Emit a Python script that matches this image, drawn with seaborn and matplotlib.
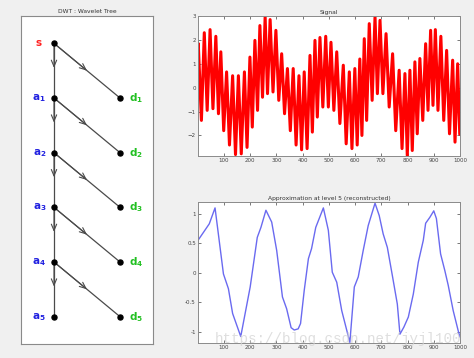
import numpy as np
import pandas as pd
import matplotlib
matplotlib.use("Agg")
import matplotlib.pyplot as plt
import seaborn as sns

# ---------------- data ----------------
# Signal: oscillation peaks / troughs
peak_x = [2, 25, 47, 69, 88, 110, 133, 155, 178, 199, 218, 237, 257, 276, 298, 320,
          342, 364, 386, 406, 428, 447, 466, 488, 508, 530, 555, 578, 599, 618, 635,
          654, 676, 695, 718, 743, 768, 790, 809, 828, 847, 869, 888, 906, 927, 949,
          972, 991]
peak_y = [1.85, 2.30, 2.43, 2.15, 1.50, 0.66, 0.50, 0.50, 0.66, 1.28, 1.98, 2.60,
          2.96, 2.85, 2.40, 1.42, 0.80, 0.80, 0.50, 0.66, 1.35, 1.98, 2.10, 2.15,
          1.90, 1.50, 0.94, 0.66, 0.80, 1.20, 2.05, 2.68, 2.96, 2.82, 2.26, 1.42,
          0.73, 0.59, 0.73, 1.08, 1.22, 1.84, 2.40, 2.43, 2.15, 1.56, 1.15, 1.00]
trough_x = [14, 36, 58, 79, 99, 121, 144, 166, 188, 208, 228, 247, 266, 287, 309, 331,
            353, 375, 396, 417, 437, 456, 477, 498, 519, 542, 566, 588, 608, 626, 644,
            665, 685, 706, 730, 755, 779, 799, 818, 837, 858, 878, 897, 916, 938, 960,
            981, 999]
trough_y = [-1.37, -0.95, -0.88, -1.09, -1.80, -2.40, -2.80, -2.77, -2.50, -1.65,
            -0.95, -0.40, -0.25, -0.18, -0.53, -1.09, -1.80, -2.40, -2.60, -2.55,
            -1.86, -1.23, -0.81, -0.81, -0.95, -1.50, -2.35, -2.55, -2.40, -2.00,
            -1.37, -0.53, -0.25, -0.25, -0.81, -1.80, -2.55, -2.84, -2.63, -1.93,
            -1.37, -0.95, -0.74, -0.95, -1.37, -1.93, -2.28, -1.95]
signal_start = (1, 0.90)

# Approximation at level 5 (reconstructed)
approx_x = [1, 44, 66, 98, 117, 133, 164, 200, 227, 241, 260, 282, 301, 323, 339,
            356, 368, 383, 392, 406, 422, 434, 450, 479, 498, 513, 530, 549, 580,
            597, 612, 631, 650, 676, 692, 707, 723, 743, 761, 771, 786, 803, 822,
            841, 860, 869, 885, 900, 910, 926, 942, 955, 974, 993, 1000]
approx_y = [0.55, 0.83, 1.10, -0.02, -0.27, -0.69, -1.08, -0.24, 0.60, 0.77, 1.06,
            0.86, 0.38, -0.41, -0.61, -0.93, -0.97, -0.95, -0.86, -0.30, 0.24, 0.41,
            0.77, 1.10, 0.72, 0.01, -0.16, -0.64, -1.18, -0.24, -0.07, 0.38, 0.80,
            1.18, 0.97, 0.66, 0.43, -0.07, -0.53, -1.04, -0.92, -0.75, -0.36, 0.18,
            0.55, 0.84, 0.94, 1.05, 0.92, 0.32, 0.04, -0.21, -0.64, -0.98, -1.09]

tree_a_labels = ["s", "a1", "a2", "a3", "a4", "a5"]
tree_d_labels = ["d1", "d2", "d3", "d4", "d5"]

sig_xticks = [100, 200, 300, 400, 500, 600, 700, 800, 900, 1000]
sig_yticks = [-2, -1, 0, 1, 2, 3]
app_yticks = [-1, -0.5, 0, 0.5, 1]
app_yticklabels = ["-1", "-0.5", "0", "0.5", "1"]

titles = ["DWT : Wavelet Tree", "Signal", "Approximation at level 5 (reconstructed)"]
watermark = "https://blog.csdn.net/jyjl100"

# ---------------- figure ----------------
sns.set_theme(style="white")
plt.rcParams["font.family"] = ["DejaVu Sans"]
plt.rcParams["mathtext.fontset"] = "dejavusans"

W, H = 474, 358
fig = plt.figure(figsize=(W / 100, H / 100), dpi=100, facecolor="#f0f0f0")

def frac(l, t, r, b):
    return [l / W, 1 - b / H, (r - l) / W, (b - t) / H]

edge = "#8a8a8a"

# ---- tree ----
axT = fig.add_axes(frac(21, 16, 153, 344))
axT.set_facecolor("white")
axT.set_xlim(-0.5, 1.5)
axT.set_ylim(5.5, -0.5)
axT.set_xticks([]); axT.set_yticks([])
for s in axT.spines.values():
    s.set_color(edge); s.set_linewidth(0.8)
axT.set_title(titles[0], fontsize=4.3, pad=2, color="#333333")

lc = "#4a4a4a"
n = len(tree_a_labels)
head = "->,head_length=0.38,head_width=0.16"
axT.plot([0, 0], [0, n - 1], color=lc, lw=0.9, zorder=1)
for i in range(n - 1):
    axT.plot([0, 1], [i, i + 1], color=lc, lw=0.9, zorder=1)
    axT.annotate("", xy=(0, i + 0.45), xytext=(0, i),
                 arrowprops=dict(arrowstyle=head, color=lc, lw=0.8,
                                 shrinkA=0, shrinkB=0))
    axT.annotate("", xy=(0.5, i + 0.5), xytext=(0, i),
                 arrowprops=dict(arrowstyle=head, color=lc, lw=0.8,
                                 shrinkA=0, shrinkB=0))
axT.scatter([0] * n, list(range(n)), s=13, color="black", zorder=3)
axT.scatter([1] * (n - 1), list(range(1, n)), s=13, color="black", zorder=3)

def lab(t):
    if len(t) == 1:
        return r"$\mathbf{%s}$" % t
    return r"$\mathbf{%s}_{\mathbf{%s}}$" % (t[0], t[1:])

for i, t in enumerate(tree_a_labels):
    col = "#ff2020" if t == "s" else "#2020e0"
    xoff = -0.17 if t == "s" else -0.12
    axT.text(xoff, i, lab(t), color=col, fontsize=7.5, ha="right", va="center")
for i, t in enumerate(tree_d_labels):
    axT.text(1.14, i + 1, lab(t), color="#22c022", fontsize=7.5, ha="left", va="center")

# ---- signal ----
sx = [signal_start[0]]
sy = [signal_start[1]]
for px, py, tx, ty in zip(peak_x, peak_y, trough_x, trough_y):
    sx += [px, tx]
    sy += [py, ty]
sig = pd.DataFrame({"x": sx, "y": sy})

axS = fig.add_axes(frac(198, 16, 460, 156))
sns.lineplot(data=sig, x="x", y="y", ax=axS, color="#ff0000", lw=2.2, sort=False)
axS.set_xlim(1, 1000)
axS.set_ylim(-2.86, 3.0)
axS.set_xticks(sig_xticks)
axS.set_yticks(sig_yticks)
axS.set_title(titles[1], fontsize=4.3, pad=1.5, color="#333333")

# ---- approximation ----
app = pd.DataFrame({"x": approx_x, "y": approx_y})
axA = fig.add_axes(frac(198, 202, 460, 343))
sns.lineplot(data=app, x="x", y="y", ax=axA, color="#6a6af0", lw=1.0, sort=False)
axA.set_xlim(1, 1000)
axA.set_ylim(-1.19, 1.2)
axA.set_xticks(sig_xticks)
axA.set_yticks(app_yticks)
axA.set_yticklabels(app_yticklabels)
axA.set_title(titles[2], fontsize=4.3, pad=1.5, color="#333333")

for ax in (axS, axA):
    ax.set_facecolor("white")
    ax.set_xlabel(""); ax.set_ylabel("")
    for s in ax.spines.values():
        s.set_color(edge); s.set_linewidth(0.7)
    ax.tick_params(direction="in", top=True, right=True, length=2, width=0.5,
                   labelsize=4, pad=1.5, colors="#444444", bottom=True, left=True)

fig.text(215 / W, 1 - 343 / H, watermark, fontsize=10.3, family="Liberation Mono",
         color="#d4d4d4", alpha=0.75, ha="left", va="baseline")

fig.savefig("out.png", dpi=100, facecolor=fig.get_facecolor())
